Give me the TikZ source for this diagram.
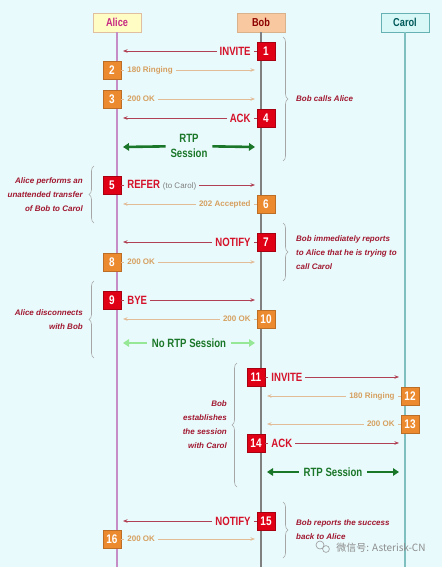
\documentclass[tikz,border=0pt]{standalone}
\usepackage{fontspec}
\setmainfont{Liberation Sans}
\newfontfamily\narrow{Liberation Sans}[FakeStretch=0.8]
\newfontfamily\cjk{Noto Sans CJK SC}
\usetikzlibrary{arrows.meta,positioning,decorations.pathreplacing}

\definecolor{bg}{RGB}{233,250,252}
\definecolor{reqred}{RGB}{212,18,42}
\definecolor{reqline}{RGB}{176,64,84}
\definecolor{resptan}{RGB}{214,160,96}
\definecolor{respline}{RGB}{226,188,150}
\definecolor{boxred}{RGB}{224,0,22}
\definecolor{boxorange}{RGB}{236,138,48}
\definecolor{notered}{RGB}{160,24,48}
\definecolor{rtpgreen}{RGB}{26,118,40}
\definecolor{nortp}{RGB}{150,232,150}
\definecolor{alicefill}{RGB}{255,252,196}
\definecolor{bobfill}{RGB}{248,200,160}
\definecolor{carolfill}{RGB}{216,248,248}

\begin{document}
\begin{tikzpicture}[x=1pt,y=-1pt,
  party/.style={draw,line width=0.8pt,minimum width=48pt,minimum height=19pt,inner sep=0pt,
    font=\narrow\bfseries\fontsize{11.5}{12}\selectfont},
  numred/.style={fill=boxred,draw=boxred!75!black,minimum size=18pt,inner sep=0pt,text=white,
    font=\narrow\bfseries\fontsize{12.5}{12}\selectfont},
  numorg/.style={numred,fill=boxorange,draw=boxorange!80!black},
  req/.style={draw=reqline,line width=0.7pt,-{Stealth[length=4.5pt,width=3.5pt]}},
  resp/.style={draw=respline,line width=0.7pt,-{Stealth[length=4.5pt,width=3.5pt]}},
  reqlbl/.style={text=reqred,fill=bg,inner ysep=1pt,inner xsep=3pt,
    font=\narrow\bfseries\fontsize{12}{12}\selectfont},
  resplbl/.style={text=resptan,fill=bg,inner ysep=1pt,inner xsep=3pt,
    font=\bfseries\fontsize{8}{9}\selectfont},
  rtp/.style={draw=rtpgreen,line width=2.6pt,-{Triangle[length=6pt,width=7.5pt]}},
  rtplbl/.style={text=rtpgreen,inner sep=0pt,outer sep=5pt,align=center,
    font=\narrow\bfseries\fontsize{12}{14.5}\selectfont},
  note/.style={text=notered,inner sep=0pt,font=\bfseries\itshape\fontsize{8}{14}\selectfont},
  brc/.style={draw=gray!70,line width=0.6pt,decorate,decoration={brace,amplitude=5pt}}]
	% background
	\useasboundingbox (0,0) rectangle (442,567);
	\fill[bg] (0,0) rectangle (442,567);
	% parties
	\node[party,fill=alicefill,draw=brown!50,text=magenta!80!black] (alice) at (117,22.5) {Alice};
	\node[party,fill=bobfill,draw=brown!60,text=red!55!black] (bob) at (261,22.5) {Bob};
	\node[party,fill=carolfill,draw=teal!60,text=teal!70!black] (carol) at (405,22.5) {Carol};
	\coordinate (aliceEnd) at (117,567);
	\coordinate (bobEnd) at (261,567);
	\coordinate (carolEnd) at (405,567);
	\draw[violet!45,line width=1.4pt] (alice) -- (aliceEnd);
	\draw[gray,line width=1.4pt] (bob) -- (bobEnd);
	\draw[teal!50,line width=1.4pt] (carol) -- (carolEnd);
	% Bob calls Alice
	\node[numred] (m1) at (266,51) {1};
	\coordinate (t1) at (123,51);
	\draw[req] (m1) -- (t1);
	\node[reqlbl,left=3pt of m1] (l1) {INVITE};
	\node[numorg] (m2) at (112,70) {2};
	\coordinate (t2) at (255,70);
	\draw[resp] (m2) -- (t2);
	\node[resplbl,right=3pt of m2] (l2) {180 Ringing};
	\node[numorg] (m3) at (112,99) {3};
	\coordinate (t3) at (255,99);
	\draw[resp] (m3) -- (t3);
	\node[resplbl,right=3pt of m3] (l3) {200 OK};
	\node[numred] (m4) at (266,118) {4};
	\coordinate (t4) at (123,118);
	\draw[req] (m4) -- (t4);
	\node[reqlbl,left=3pt of m4] (l4) {ACK};
	\coordinate (ra1) at (123,147);
	\coordinate (rb1) at (255,147);
	\node[rtplbl] (rtp1) at (189,146) {RTP\\Session};
	\draw[rtp] (rtp1) -- (ra1);
	\draw[rtp] (rtp1) -- (rb1);
	% transfer
	\node[numred] (m5) at (112,185) {5};
	\coordinate (t5) at (255,185);
	\draw[req] (m5) -- (t5);
	\node[reqlbl,right=3pt of m5] (l5) {REFER\hspace{3pt}{\rmfamily\mdseries\fontsize{8}{9}\selectfont\color{gray}(to Carol)}};
	\node[numorg] (m6) at (266,204) {6};
	\coordinate (t6) at (123,204);
	\draw[resp] (m6) -- (t6);
	\node[resplbl,left=3pt of m6] (l6) {202 Accepted};
	\node[numred] (m7) at (266,242) {7};
	\coordinate (t7) at (123,242);
	\draw[req] (m7) -- (t7);
	\node[reqlbl,left=3pt of m7] (l7) {NOTIFY};
	\node[numorg] (m8) at (112,262) {8};
	\coordinate (t8) at (255,262);
	\draw[resp] (m8) -- (t8);
	\node[resplbl,right=3pt of m8] (l8) {200 OK};
	% disconnect
	\node[numred] (m9) at (112,300) {9};
	\coordinate (t9) at (255,300);
	\draw[req] (m9) -- (t9);
	\node[reqlbl,right=3pt of m9] (l9) {BYE};
	\node[numorg] (m10) at (266,319) {10};
	\coordinate (t10) at (123,319);
	\draw[resp] (m10) -- (t10);
	\node[resplbl,left=3pt of m10] (l10) {200 OK};
	\coordinate (ra2) at (123,343);
	\coordinate (rb2) at (255,343);
	\node[rtplbl] (rtp2) at (189,343) {No RTP Session};
	\draw[rtp,draw=nortp] (rtp2) -- (ra2);
	\draw[rtp,draw=nortp] (rtp2) -- (rb2);
	% Bob and Carol
	\node[numred] (m11) at (256,377) {11};
	\coordinate (t11) at (399,377);
	\draw[req] (m11) -- (t11);
	\node[reqlbl,right=3pt of m11] (l11) {INVITE};
	\node[numorg] (m12) at (410,396) {12};
	\coordinate (t12) at (267,396);
	\draw[resp] (m12) -- (t12);
	\node[resplbl,left=3pt of m12] (l12) {180 Ringing};
	\node[numorg] (m13) at (410,424) {13};
	\coordinate (t13) at (267,424);
	\draw[resp] (m13) -- (t13);
	\node[resplbl,left=3pt of m13] (l13) {200 OK};
	\node[numred] (m14) at (256,443) {14};
	\coordinate (t14) at (399,443);
	\draw[req] (m14) -- (t14);
	\node[reqlbl,right=3pt of m14] (l14) {ACK};
	\coordinate (rb3) at (267,472);
	\coordinate (rc3) at (399,472);
	\node[rtplbl] (rtp3) at (333,472) {RTP Session};
	\draw[rtp] (rtp3) -- (rb3);
	\draw[rtp] (rtp3) -- (rc3);
	% report back
	\node[numred] (m15) at (266,521) {15};
	\coordinate (t15) at (123,521);
	\draw[req] (m15) -- (t15);
	\node[reqlbl,left=3pt of m15] (l15) {NOTIFY};
	\node[numorg] (m16) at (112,539) {16};
	\coordinate (t16) at (255,539);
	\draw[resp] (m16) -- (t16);
	\node[resplbl,right=3pt of m16] (l16) {200 OK};
	% braces and notes
	\draw[brc] (283,37) -- (283,161);
	\node[note,anchor=west] (n1) at (296,99) {Bob calls Alice};
	\draw[brc] (94,223) -- (94,166);
	\node[note,anchor=east,align=right] (n2) at (83,195) {Alice performs an\\unattended transfer\\of Bob to Carol};
	\draw[brc] (283,223) -- (283,281);
	\node[note,anchor=west,align=left] (n3) at (296,253) {Bob immediately reports\\to Alice that he is trying to\\call Carol};
	\draw[brc] (94,358) -- (94,281);
	\node[note,anchor=east,align=right] (n4) at (83,320) {Alice disconnects\\with Bob};
	\draw[brc] (237,487) -- (237,363);
	\node[note,anchor=east,align=right] (n5) at (227,425) {Bob\\establishes\\the session\\with Carol};
	\draw[brc] (283,502) -- (283,558);
	\node[note,anchor=west,align=left] (n6) at (296,530) {Bob reports the success\\back to Alice};
	% watermark
	\draw[gray!80,line width=0.6pt] (320,545) circle (4) (326,549) circle (3.4);
	\node[text=gray!90,inner sep=0pt,font=\cjk\fontsize{10}{10}\selectfont] (wm) at (381,548) {微信号: Asterisk-CN};
\end{tikzpicture}
\end{document}
